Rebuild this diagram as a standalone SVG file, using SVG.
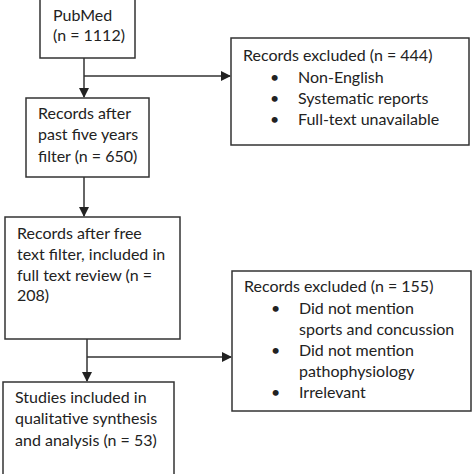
<svg xmlns="http://www.w3.org/2000/svg" width="474" height="474" viewBox="0 0 474 474">
<style>
.box{fill:#fff;stroke:#333;stroke-width:1.5}
.ln{fill:none;stroke:#333;stroke-width:1.5}
text{font-family:Lato,"Liberation Sans",Arial,sans-serif;font-size:16px;fill:#222}
</style>
<defs>
<marker id="ah" markerWidth="10" markerHeight="10" refX="9" refY="5" orient="auto" markerUnits="userSpaceOnUse">
<path d="M0,0 L10,5 L0,10 Z" fill="#222"/>
</marker>
</defs>
<rect width="474" height="474" fill="#fff"/>
<g id="connectors">
<path class="ln" d="M84,58 V97" marker-end="url(#ah)"/>
<path class="ln" d="M84,76 H230" marker-end="url(#ah)"/>
<path class="ln" d="M84,177 V216" marker-end="url(#ah)"/>
<path class="ln" d="M87,339 V381" marker-end="url(#ah)"/>
<path class="ln" d="M87,357 H231" marker-end="url(#ah)"/>
</g>
<g id="pubmed">
<rect class="box" x="40" y="-2" width="95" height="60"/>
<text x="53" y="21">PubMed</text>
<text x="53" y="41">(n = 1112)</text>
</g>
<g id="excluded1">
<rect class="box" x="231" y="38" width="238" height="107"/>
<text x="243" y="61">Records excluded (n = 444)</text>
<text x="270" y="83">•</text><text x="298" y="83">Non-English</text>
<text x="270" y="104">•</text><text x="298" y="104">Systematic reports</text>
<text x="270" y="125">•</text><text x="298" y="125">Full-text unavailable</text>
</g>
<g id="fiveyears">
<rect class="box" x="26" y="98" width="123" height="79"/>
<text x="38" y="119">Records after</text>
<text x="38" y="140">past five years</text>
<text x="38" y="162">filter (n = 650)</text>
</g>
<g id="freetext">
<rect class="box" x="5" y="217" width="175" height="122"/>
<text x="17" y="239">Records after free</text>
<text x="17" y="260">text filter, included in</text>
<text x="17" y="281">full text review (n =</text>
<text x="17" y="301">208)</text>
</g>
<g id="excluded2">
<rect class="box" x="232" y="271" width="239" height="140"/>
<text x="244" y="292">Records excluded (n = 155)</text>
<text x="271" y="314">•</text><text x="299" y="314">Did not mention</text>
<text x="299" y="335">sports and concussion</text>
<text x="271" y="356">•</text><text x="299" y="356">Did not mention</text>
<text x="299" y="377">pathophysiology</text>
<text x="271" y="398">•</text><text x="299" y="398">Irrelevant</text>
</g>
<g id="included">
<rect class="box" x="3" y="382" width="171" height="100"/>
<text x="15" y="403">Studies included in</text>
<text x="15" y="424">qualitative synthesis</text>
<text x="15" y="446">and analysis (n = 53)</text>
</g>
</svg>
